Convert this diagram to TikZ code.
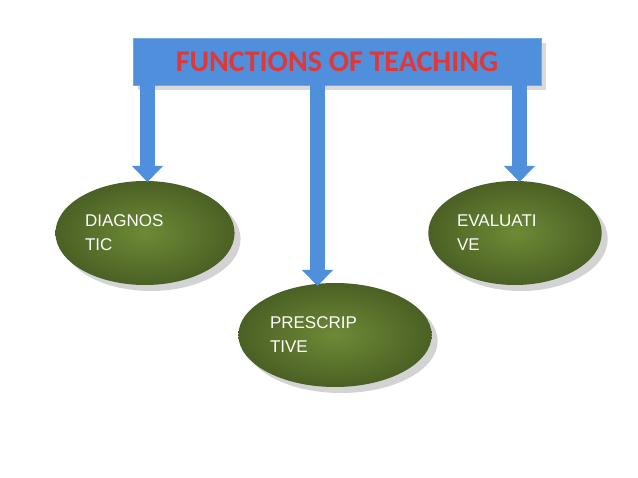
\documentclass[tikz,border=0pt]{standalone}
\usepackage{fontspec}
\setmainfont{Liberation Sans}
\newfontfamily\titlefont{Carlito}
\usetikzlibrary{shapes.geometric,arrows.meta,shadows}
\definecolor{barblue}{HTML}{4F8FDB}
\definecolor{olive}{HTML}{4B6024}
\definecolor{olivelight}{HTML}{6E8A36}
\definecolor{titlered}{HTML}{E03838}
\begin{document}
\begin{tikzpicture}[x=1pt,y=-1pt,
  oval/.style={ellipse,inner color=olivelight,outer color=olive,minimum width=#1,minimum height=104pt,
    text=white,font=\fontsize{17}{24}\selectfont,align=left,drop shadow={opacity=0.35,shadow xshift=6pt,shadow yshift=-6pt}},
  conn/.style={draw=barblue,line width=15pt,-{Triangle[width=30pt,length=16pt]},shorten >=-1pt}]
\useasboundingbox (0,0) rectangle (638,478);
\node[draw=barblue!80!white,fill=barblue,minimum width=408pt,minimum height=47pt,inner sep=0pt,
  font=\titlefont\bfseries\fontsize{30}{30}\selectfont,text=titlered,
  drop shadow={opacity=0.3,shadow xshift=5pt,shadow yshift=-5pt}] (title) at (337,61.5) {FUNCTIONS OF TEACHING};
\node[oval=170pt,text width=120pt] (diag) at (145,233) {DIAGNOS\\TIC};
\node[oval=190pt,text width=130pt] (pres) at (335,335) {PRESCRIP\\TIVE};
\node[oval=164pt,text width=116pt] (eval) at (515,233) {EVALUATI\\VE};
\coordinate (a1) at (147.5,85);
\coordinate (a2) at (317.5,85);
\coordinate (a3) at (519.5,85);
\draw[conn] (a1) -- (147.5,181);
\draw[conn] (a2) -- (317.5,285);
\draw[conn] (a3) -- (519.5,181);
\end{tikzpicture}
\end{document}
